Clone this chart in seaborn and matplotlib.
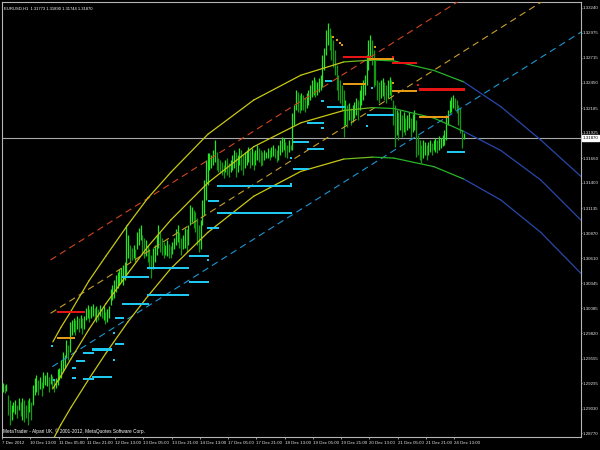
import numpy as np
import pandas as pd
import matplotlib
matplotlib.use('Agg')
import matplotlib.pyplot as plt
import matplotlib.transforms as mtrans
import seaborn as sns

symbol_info = 'EURUSD,H1  1.31773 1.31890 1.31744 1.31870'
copyright_note = 'MetaTrader - Alpari UK, \u00a9 2001-2012, MetaQuotes Software Corp.'
last_price = 1.31870

# hourly bars (high / low)
highs = [1.2930, 1.2928, 1.2929, 1.2917, 1.2912, 1.2907, 1.2910, 1.2912, 1.2907, 1.2914, 1.2910,
         1.2914, 1.2912, 1.2907, 1.2912, 1.2914, 1.2910, 1.2928, 1.2935, 1.2938, 1.2933, 1.2936, 1.2931,
         1.2941, 1.2938, 1.2941, 1.2936, 1.2939, 1.2937, 1.2933, 1.2935, 1.2944, 1.2946, 1.2954, 1.2962, 1.2959,
         1.2975, 1.2970, 1.2994, 1.2996, 1.2998, 1.2996, 1.3000, 1.2998, 1.3001, 1.2998, 1.3000,
         1.3009, 1.3012, 1.3007, 1.3011, 1.3013, 1.3009, 1.3011, 1.3007, 1.3012, 1.3009, 1.3011, 1.3004, 1.3007, 1.3011,
         1.3028, 1.3033, 1.3038, 1.3043, 1.3046, 1.3049, 1.3051, 1.3054, 1.3057, 1.3096,
         1.3085, 1.3075, 1.3072, 1.3075, 1.3070, 1.3088, 1.3093, 1.3096, 1.3085, 1.3082, 1.3080, 1.3075,
         1.3070, 1.3064, 1.3072, 1.3075, 1.3085, 1.3096, 1.3088, 1.3082,
         1.3078, 1.3075, 1.3080, 1.3076, 1.3074, 1.3078, 1.3082, 1.3091, 1.3096, 1.3088, 1.3082, 1.3085,
         1.3093, 1.3091, 1.3096, 1.3117, 1.3115, 1.3112, 1.3109, 1.3103, 1.3096, 1.3101,
         1.3122, 1.3143, 1.3164, 1.3171, 1.3171, 1.3169, 1.3174, 1.3185, 1.3172, 1.3166,
         1.3164, 1.3162, 1.3159, 1.3164, 1.3166, 1.3161, 1.3164, 1.3169,
         1.3174, 1.3172, 1.3169, 1.3177, 1.3174, 1.3169, 1.3172, 1.3174,
         1.3178, 1.3174, 1.3177, 1.3172, 1.3174, 1.3180, 1.3177, 1.3174, 1.3172,
         1.3174, 1.3172, 1.3177, 1.3174, 1.3178, 1.3180, 1.3177, 1.3174,
         1.3180, 1.3185, 1.3188, 1.3187, 1.3183, 1.3180, 1.3185, 1.3180, 1.3213, 1.3222,
         1.3238, 1.3235, 1.3232, 1.3234, 1.3232, 1.3229, 1.3234, 1.3238, 1.3243, 1.3248,
         1.3251, 1.3248, 1.3246, 1.3250, 1.3253, 1.3274, 1.3282, 1.3300, 1.3308, 1.3303, 1.3295,
         1.3290, 1.3280, 1.3264, 1.3253, 1.3248, 1.3243, 1.3238,
         1.3227, 1.3222, 1.3224, 1.3219, 1.3222, 1.3225, 1.3229, 1.3227, 1.3238, 1.3243, 1.3248, 1.3253,
         1.3274, 1.3290, 1.3295, 1.3290, 1.3280, 1.3269,
         1.3248, 1.3246, 1.3248, 1.3250, 1.3246, 1.3243, 1.3248, 1.3251, 1.3248,
         1.3227, 1.3222, 1.3216, 1.3214, 1.3216, 1.3211, 1.3214, 1.3208, 1.3211, 1.3214, 1.3208, 1.3212,
         1.3216, 1.3206, 1.3190, 1.3185, 1.3180, 1.3185, 1.3183, 1.3180,
         1.3183, 1.3185, 1.3182, 1.3185, 1.3187, 1.3185, 1.3189, 1.3187, 1.3190, 1.3196, 1.3211, 1.3216,
         1.3227, 1.3230, 1.3232, 1.3229, 1.3227, 1.3222, 1.3219, 1.3196, 1.3192]
lows = [1.2920, 1.2919, 1.2921, 1.2896, 1.2886, 1.2891, 1.2899, 1.2897, 1.2893, 1.2901, 1.2895,
        1.2891, 1.2889, 1.2893, 1.2886, 1.2899, 1.2891, 1.2907, 1.2917, 1.2920, 1.2917, 1.2923, 1.2916,
        1.2925, 1.2928, 1.2927, 1.2920, 1.2929, 1.2923, 1.2920, 1.2925, 1.2928, 1.2933, 1.2935, 1.2941, 1.2946,
        1.2956, 1.2954, 1.2962, 1.2980, 1.2983, 1.2980, 1.2986, 1.2983, 1.2988, 1.2981, 1.2986,
        1.2996, 1.2998, 1.2994, 1.2998, 1.3000, 1.2996, 1.2994, 1.2996, 1.3000, 1.2998, 1.2996, 1.2992, 1.2994, 1.2998,
        1.3012, 1.3017, 1.3019, 1.3025, 1.3030, 1.3033, 1.3036, 1.3033, 1.3038, 1.3043,
        1.3061, 1.3057, 1.3059, 1.3061, 1.3057, 1.3070, 1.3075, 1.3080, 1.3064, 1.3061, 1.3063, 1.3057,
        1.3049, 1.3040, 1.3049, 1.3057, 1.3064, 1.3072, 1.3067, 1.3064,
        1.3061, 1.3064, 1.3063, 1.3061, 1.3061, 1.3065, 1.3070, 1.3075, 1.3078, 1.3072, 1.3064, 1.3070,
        1.3072, 1.3067, 1.3075, 1.3096, 1.3099, 1.3093, 1.3088, 1.3075, 1.3067, 1.3070,
        1.3096, 1.3106, 1.3122, 1.3138, 1.3154, 1.3156, 1.3159, 1.3162, 1.3154, 1.3151,
        1.3150, 1.3148, 1.3145, 1.3151, 1.3148, 1.3146, 1.3151, 1.3154,
        1.3156, 1.3146, 1.3151, 1.3159, 1.3154, 1.3148, 1.3156, 1.3159,
        1.3162, 1.3156, 1.3159, 1.3154, 1.3159, 1.3164, 1.3162, 1.3158, 1.3159,
        1.3164, 1.3166, 1.3166, 1.3164, 1.3167, 1.3168, 1.3166, 1.3162,
        1.3164, 1.3169, 1.3172, 1.3174, 1.3167, 1.3166, 1.3172, 1.3174, 1.3174, 1.3201,
        1.3216, 1.3214, 1.3213, 1.3216, 1.3216, 1.3214, 1.3219, 1.3222, 1.3227, 1.3230,
        1.3232, 1.3230, 1.3232, 1.3235, 1.3238, 1.3241, 1.3258, 1.3274, 1.3285, 1.3280, 1.3269,
        1.3262, 1.3253, 1.3238, 1.3227, 1.3224, 1.3216, 1.3188,
        1.3201, 1.3199, 1.3206, 1.3201, 1.3204, 1.3208, 1.3211, 1.3206, 1.3216, 1.3222, 1.3227, 1.3232,
        1.3243, 1.3258, 1.3269, 1.3264, 1.3241, 1.3243,
        1.3227, 1.3224, 1.3229, 1.3231, 1.3227, 1.3224, 1.3229, 1.3232, 1.3227,
        1.3201, 1.3178, 1.3190, 1.3185, 1.3196, 1.3188, 1.3193, 1.3190, 1.3196, 1.3198, 1.3188, 1.3193,
        1.3196, 1.3167, 1.3169, 1.3164, 1.3161, 1.3166, 1.3169, 1.3164,
        1.3169, 1.3172, 1.3169, 1.3174, 1.3172, 1.3171, 1.3174, 1.3177, 1.3179, 1.3180, 1.3185, 1.3201,
        1.3213, 1.3214, 1.3219, 1.3216, 1.3213, 1.3201, 1.3192, 1.3177, 1.3186]

date_labels = ['7 Dec 2012', '10 Dec 13:00', '11 Dec 05:00', '11 Dec 21:00', '12 Dec 13:00',
               '13 Dec 05:00', '13 Dec 21:00', '14 Dec 13:00', '17 Dec 05:00', '17 Dec 21:00',
               '18 Dec 13:00', '19 Dec 05:00', '19 Dec 21:00', '20 Dec 13:00', '21 Dec 05:00',
               '21 Dec 21:00', '24 Dec 13:00']
price_labels = [1.33240, 1.32975, 1.32715, 1.32450, 1.32185, 1.31925, 1.31660, 1.31400, 1.31135,
                1.30870, 1.30610, 1.30345, 1.30085, 1.29820, 1.29555, 1.29295, 1.29030, 1.28770]

# parallel dashed channel (start bar, end bar / prices)
red_bars = [27, 328]
red_prices = [1.3059, 1.3413]
gold_bars = [27, 328]
gold_prices = [1.3003, 1.3357]
blue_bars = [28, 328]
blue_prices = [1.2947, 1.3299]

# curved channel, three parallel arcs (bar, price)
arc_bars = [28.3, 32.8, 38.5, 48.7, 58.3, 70.8, 82.1, 95.1, 116.1, 142.1, 168.7, 193.1, 209.5,
            221.4, 244.1, 261.0, 282.0, 304.6, 328.4]
arc_top = [1.2973, 1.2988, 1.3005, 1.3037, 1.3063, 1.3096, 1.3124, 1.3151, 1.3191, 1.3227, 1.3253,
           1.3267, 1.3269, 1.3268, 1.3258, 1.3246, 1.3220, 1.3185, 1.3145]
arc_mid = [1.2924, 1.2937, 1.2955, 1.2986, 1.3013, 1.3045, 1.3073, 1.3101, 1.3140, 1.3178, 1.3203,
           1.3216, 1.3219, 1.3218, 1.3208, 1.3194, 1.3174, 1.3143, 1.3099]
arc_low = [1.2870, 1.2886, 1.2904, 1.2934, 1.2961, 1.2994, 1.3021, 1.3050, 1.3088, 1.3126, 1.3152,
           1.3165, 1.3167, 1.3166, 1.3157, 1.3144, 1.3122, 1.3088, 1.3043]

# dotted levels (first bar, last bar, price)
cyan_start = [82, 68, 106, 116, 106, 82, 68, 64, 64, 51, 46, 42, 51, 46, 122, 117, 122, 165, 165, 173, 173,
              184, 183, 207, 252, 28, 29, 63, 63, 116, 163, 163, 181, 181, 206, 209, 40, 40]
cyan_end = [105, 82, 116, 122, 116, 105, 82, 68, 68, 61, 51, 46, 61, 51, 163, 122, 163, 173, 173, 181, 181,
            193, 186, 221, 261, 28, 29, 63, 63, 116, 163, 163, 181, 181, 206, 209, 41, 41]
cyan_price = [1.3051, 1.3041, 1.3063, 1.3093, 1.3036, 1.3022, 1.3013, 1.2998, 1.2971, 1.2965, 1.2961, 1.2953,
              1.2936, 1.2934, 1.3137, 1.3121, 1.3108, 1.3183, 1.3155, 1.3203, 1.3176, 1.3220, 1.3247, 1.3211,
              1.3172, 1.2969, 1.2933, 1.2982, 1.2954, 1.3059, 1.3166, 1.3139, 1.3226, 1.3198, 1.3200, 1.3240,
              1.2946, 1.2935]
red_start = [31, 193, 221, 236, 221, 235]
red_end = [46, 208, 234, 261, 221, 235]
red_price = [1.3004, 1.3272, 1.3266, 1.3238, 1.3272, 1.3243]
orange_start = [31, 193, 208, 221, 236, 211, 221, 187, 189, 191, 192]
orange_end = [40, 205, 221, 234, 252, 211, 221, 187, 189, 191, 192]
orange_price = [1.2977, 1.3244, 1.3270, 1.3236, 1.3209, 1.3283, 1.3245, 1.3293, 1.3290, 1.3287, 1.3285]

sns.set_theme(style='dark', rc={'axes.facecolor': 'black', 'figure.facecolor': 'black',
                                'axes.edgecolor': '#b4b4b4', 'axes.linewidth': 0.8,
                                'axes.grid': False, 'text.color': 'white'})
plt.rcParams['font.family'] = ['Liberation Sans', 'DejaVu Sans']

fig = plt.figure(figsize=(6, 4.5), dpi=100)
ax = fig.add_axes([2 / 600, 13 / 450, 579 / 600, 435 / 450])

bars = np.arange(len(highs))
hi = np.array(highs)
lo = np.array(lows)
mid = (hi + lo) / 2
up = np.r_[True, mid[1:] >= mid[:-1]]
ax.vlines(bars[up], lo[up], hi[up], colors='#22e622', lw=0.9, zorder=3)
ax.vlines(bars[~up], lo[~up], hi[~up], colors='#139a13', lw=0.9, zorder=3)

ax.axhline(last_price, color='#a8a8a8', lw=0.8, zorder=2)

for bx, py, col in [(red_bars, red_prices, '#d2461e'), (gold_bars, gold_prices, '#c8a028'),
                    (blue_bars, blue_prices, '#1e96d2')]:
    ax.plot(bx, py, color=col, lw=0.8, linestyle=(0, (6, 4)), zorder=4)

# arcs go yellow -> green -> blue from past to future
yellow = np.array([200, 200, 20]) / 255
green = np.array([40, 180, 40]) / 255
blue = np.array([40, 72, 170]) / 255

def zone_color(b):
    if b < 185:
        return yellow
    if b < 215:
        t = (b - 185) / 30
        return yellow * (1 - t) + green * t
    if b < 258:
        return green
    if b < 270:
        t = (b - 258) / 12
        return green * (1 - t) + blue * t
    return blue

for arc in [arc_top, arc_mid, arc_low]:
    for i in range(len(arc_bars) - 1):
        seg = pd.DataFrame({'bar': arc_bars[i:i + 2], 'price': arc[i:i + 2]})
        sns.lineplot(data=seg, x='bar', y='price', color=zone_color((arc_bars[i] + arc_bars[i + 1]) / 2),
                     lw=0.9, ax=ax, sort=False, zorder=4)

rows = []
for s, e, p, c in zip(cyan_start + red_start + orange_start, cyan_end + red_end + orange_end,
                      cyan_price + red_price + orange_price,
                      ['cyan'] * len(cyan_start) + ['red'] * len(red_start) + ['orange'] * len(orange_start)):
    for b in range(s, e + 1):
        rows.append((b, p, c))
dots = pd.DataFrame(rows, columns=['bar', 'price', 'kind'])
sns.scatterplot(data=dots, x='bar', y='price', hue='kind', marker='s', s=2.2, linewidth=0,
                palette={'cyan': '#1ec8f0', 'red': '#e61414', 'orange': '#e69b14'},
                legend=False, ax=ax, zorder=5)

ax.set_xlim(-0.5, 327.4)
ax.set_ylim(1.28731, 1.33299)
ax.set_xlabel('')
ax.set_ylabel('')

ax.set_xticks([16 * k - 0.5 for k in range(len(date_labels))])
ax.set_xticklabels(date_labels, ha='left')
ax.set_yticks(price_labels)
ax.set_yticklabels(['%.5f' % v for v in price_labels])
ax.yaxis.tick_right()
ax.tick_params(axis='both', bottom=True, right=True, left=False, top=False, direction='out',
               length=1.0, width=0.6, color='#b4b4b4', labelcolor='#e6e6e6', pad=0.3)
ax.tick_params(axis='x', labelsize=3.2, length=1.5, pad=1.5)
ax.tick_params(axis='y', labelsize=3.2)
for sp in ax.spines.values():
    sp.set_color('#b4b4b4')
    sp.set_linewidth(0.8)

trans = mtrans.blended_transform_factory(ax.transAxes, ax.transData)
ax.text(1.003, last_price, '%.5f' % last_price, transform=trans, ha='left', va='center', fontsize=3.2,
        color='black', bbox=dict(boxstyle='square,pad=0.2', fc='white', ec='white'), clip_on=False, zorder=10)

ax.text(0.003, 0.99, symbol_info, transform=ax.transAxes, ha='left', va='top', fontsize=3.0, color='white')
ax.text(0.001, 0.006, copyright_note, transform=ax.transAxes, ha='left', va='bottom', fontsize=3.4, color='white')

fig.savefig('out.png', dpi=100, facecolor='black')
